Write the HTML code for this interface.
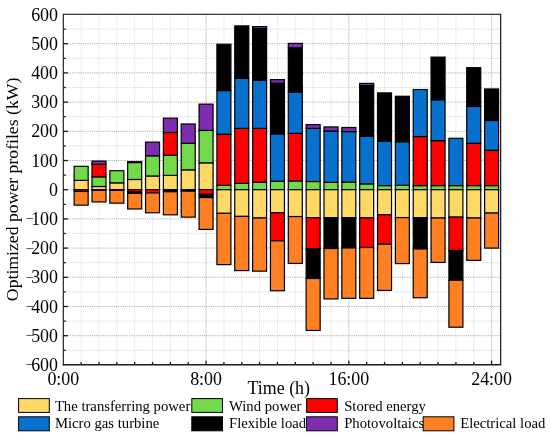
<!DOCTYPE html>
<html lang="en"><head><meta charset="utf-8"><title>Optimized power profiles</title>
<style>html,body{margin:0;padding:0;background:#fff}body{width:550px;height:437px;overflow:hidden}svg{display:block}text{font-family:"Liberation Serif","Times New Roman",serif;fill:#000}</style>
</head><body>
<svg width="550" height="437" viewBox="0 0 550 437">
<rect x="0" y="0" width="550" height="437" fill="#ffffff"/>
<g fill="none" stroke-width="1">
<line x1="81.15" y1="14.3" x2="81.15" y2="364.7" stroke="#dadada" stroke-dasharray="1.1 1.1"/>
<line x1="98.99" y1="14.3" x2="98.99" y2="364.7" stroke="#dadada" stroke-dasharray="1.1 1.1"/>
<line x1="116.84" y1="14.3" x2="116.84" y2="364.7" stroke="#dadada" stroke-dasharray="1.1 1.1"/>
<line x1="134.68" y1="14.3" x2="134.68" y2="364.7" stroke="#dadada" stroke-dasharray="1.1 1.1"/>
<line x1="152.53" y1="14.3" x2="152.53" y2="364.7" stroke="#dadada" stroke-dasharray="1.1 1.1"/>
<line x1="170.38" y1="14.3" x2="170.38" y2="364.7" stroke="#dadada" stroke-dasharray="1.1 1.1"/>
<line x1="188.22" y1="14.3" x2="188.22" y2="364.7" stroke="#dadada" stroke-dasharray="1.1 1.1"/>
<line x1="206.07" y1="14.3" x2="206.07" y2="364.7" stroke="#aaaaaa" stroke-dasharray="1.1 1.1"/>
<line x1="223.91" y1="14.3" x2="223.91" y2="364.7" stroke="#dadada" stroke-dasharray="1.1 1.1"/>
<line x1="241.76" y1="14.3" x2="241.76" y2="364.7" stroke="#dadada" stroke-dasharray="1.1 1.1"/>
<line x1="259.60" y1="14.3" x2="259.60" y2="364.7" stroke="#dadada" stroke-dasharray="1.1 1.1"/>
<line x1="277.45" y1="14.3" x2="277.45" y2="364.7" stroke="#dadada" stroke-dasharray="1.1 1.1"/>
<line x1="295.30" y1="14.3" x2="295.30" y2="364.7" stroke="#dadada" stroke-dasharray="1.1 1.1"/>
<line x1="313.14" y1="14.3" x2="313.14" y2="364.7" stroke="#dadada" stroke-dasharray="1.1 1.1"/>
<line x1="330.99" y1="14.3" x2="330.99" y2="364.7" stroke="#dadada" stroke-dasharray="1.1 1.1"/>
<line x1="348.83" y1="14.3" x2="348.83" y2="364.7" stroke="#aaaaaa" stroke-dasharray="1.1 1.1"/>
<line x1="366.68" y1="14.3" x2="366.68" y2="364.7" stroke="#dadada" stroke-dasharray="1.1 1.1"/>
<line x1="384.53" y1="14.3" x2="384.53" y2="364.7" stroke="#dadada" stroke-dasharray="1.1 1.1"/>
<line x1="402.37" y1="14.3" x2="402.37" y2="364.7" stroke="#dadada" stroke-dasharray="1.1 1.1"/>
<line x1="420.22" y1="14.3" x2="420.22" y2="364.7" stroke="#dadada" stroke-dasharray="1.1 1.1"/>
<line x1="438.06" y1="14.3" x2="438.06" y2="364.7" stroke="#dadada" stroke-dasharray="1.1 1.1"/>
<line x1="455.91" y1="14.3" x2="455.91" y2="364.7" stroke="#dadada" stroke-dasharray="1.1 1.1"/>
<line x1="473.75" y1="14.3" x2="473.75" y2="364.7" stroke="#dadada" stroke-dasharray="1.1 1.1"/>
<line x1="491.60" y1="14.3" x2="491.60" y2="364.7" stroke="#aaaaaa" stroke-dasharray="1.1 1.1"/>
<line x1="63.3" y1="350.30" x2="500.7" y2="350.30" stroke="#d6d6d6" stroke-dasharray="1.1 1.1"/>
<line x1="63.3" y1="335.70" x2="500.7" y2="335.70" stroke="#aaaaaa" stroke-dasharray="1.1 1.1"/>
<line x1="63.3" y1="321.10" x2="500.7" y2="321.10" stroke="#d6d6d6" stroke-dasharray="1.1 1.1"/>
<line x1="63.3" y1="306.50" x2="500.7" y2="306.50" stroke="#aaaaaa" stroke-dasharray="1.1 1.1"/>
<line x1="63.3" y1="291.90" x2="500.7" y2="291.90" stroke="#d6d6d6" stroke-dasharray="1.1 1.1"/>
<line x1="63.3" y1="277.30" x2="500.7" y2="277.30" stroke="#aaaaaa" stroke-dasharray="1.1 1.1"/>
<line x1="63.3" y1="262.70" x2="500.7" y2="262.70" stroke="#d6d6d6" stroke-dasharray="1.1 1.1"/>
<line x1="63.3" y1="248.10" x2="500.7" y2="248.10" stroke="#aaaaaa" stroke-dasharray="1.1 1.1"/>
<line x1="63.3" y1="233.50" x2="500.7" y2="233.50" stroke="#d6d6d6" stroke-dasharray="1.1 1.1"/>
<line x1="63.3" y1="218.90" x2="500.7" y2="218.90" stroke="#aaaaaa" stroke-dasharray="1.1 1.1"/>
<line x1="63.3" y1="204.30" x2="500.7" y2="204.30" stroke="#d6d6d6" stroke-dasharray="1.1 1.1"/>
<line x1="63.3" y1="189.70" x2="500.7" y2="189.70" stroke="#aaaaaa" stroke-dasharray="1.1 1.1"/>
<line x1="63.3" y1="175.10" x2="500.7" y2="175.10" stroke="#d6d6d6" stroke-dasharray="1.1 1.1"/>
<line x1="63.3" y1="160.50" x2="500.7" y2="160.50" stroke="#aaaaaa" stroke-dasharray="1.1 1.1"/>
<line x1="63.3" y1="145.90" x2="500.7" y2="145.90" stroke="#d6d6d6" stroke-dasharray="1.1 1.1"/>
<line x1="63.3" y1="131.30" x2="500.7" y2="131.30" stroke="#aaaaaa" stroke-dasharray="1.1 1.1"/>
<line x1="63.3" y1="116.70" x2="500.7" y2="116.70" stroke="#d6d6d6" stroke-dasharray="1.1 1.1"/>
<line x1="63.3" y1="102.10" x2="500.7" y2="102.10" stroke="#aaaaaa" stroke-dasharray="1.1 1.1"/>
<line x1="63.3" y1="87.50" x2="500.7" y2="87.50" stroke="#d6d6d6" stroke-dasharray="1.1 1.1"/>
<line x1="63.3" y1="72.90" x2="500.7" y2="72.90" stroke="#aaaaaa" stroke-dasharray="1.1 1.1"/>
<line x1="63.3" y1="58.30" x2="500.7" y2="58.30" stroke="#d6d6d6" stroke-dasharray="1.1 1.1"/>
<line x1="63.3" y1="43.70" x2="500.7" y2="43.70" stroke="#aaaaaa" stroke-dasharray="1.1 1.1"/>
<line x1="63.3" y1="29.10" x2="500.7" y2="29.10" stroke="#d6d6d6" stroke-dasharray="1.1 1.1"/>
</g>
<g stroke="#000" stroke-width="1.2" stroke-linejoin="miter">
<rect x="74.15" y="180.36" width="14.0" height="9.34" fill="#FFD966"/>
<rect x="74.15" y="166.34" width="14.0" height="14.02" fill="#72DA48"/>
<rect x="74.15" y="189.70" width="14.0" height="1.75" fill="#FF0000"/>
<rect x="74.15" y="191.45" width="14.0" height="13.72" fill="#FF8022"/>
<rect x="91.99" y="186.49" width="14.0" height="3.21" fill="#FFD966"/>
<rect x="91.99" y="176.85" width="14.0" height="9.64" fill="#72DA48"/>
<rect x="91.99" y="164.30" width="14.0" height="12.56" fill="#FF0000"/>
<rect x="91.99" y="161.08" width="14.0" height="3.21" fill="#7D2DAE"/>
<rect x="91.99" y="189.70" width="14.0" height="0.58" fill="#000000"/>
<rect x="91.99" y="190.28" width="14.0" height="11.68" fill="#FF8022"/>
<rect x="109.84" y="182.84" width="14.0" height="6.86" fill="#FFD966"/>
<rect x="109.84" y="170.72" width="14.0" height="12.12" fill="#72DA48"/>
<rect x="109.84" y="189.70" width="14.0" height="0.58" fill="#000000"/>
<rect x="109.84" y="190.28" width="14.0" height="12.85" fill="#FF8022"/>
<rect x="127.68" y="179.48" width="14.0" height="10.22" fill="#FFD966"/>
<rect x="127.68" y="162.54" width="14.0" height="16.94" fill="#72DA48"/>
<rect x="127.68" y="161.67" width="14.0" height="0.88" fill="#000000"/>
<rect x="127.68" y="189.70" width="14.0" height="2.48" fill="#FF0000"/>
<rect x="127.68" y="192.18" width="14.0" height="1.17" fill="#000000"/>
<rect x="127.68" y="193.35" width="14.0" height="15.62" fill="#FF8022"/>
<rect x="145.53" y="175.98" width="14.0" height="13.72" fill="#FFD966"/>
<rect x="145.53" y="155.83" width="14.0" height="20.15" fill="#72DA48"/>
<rect x="145.53" y="142.10" width="14.0" height="13.72" fill="#7D2DAE"/>
<rect x="145.53" y="189.70" width="14.0" height="3.21" fill="#FF0000"/>
<rect x="145.53" y="192.91" width="14.0" height="19.86" fill="#FF8022"/>
<rect x="163.38" y="175.39" width="14.0" height="14.31" fill="#FFD966"/>
<rect x="163.38" y="155.24" width="14.0" height="20.15" fill="#72DA48"/>
<rect x="163.38" y="132.47" width="14.0" height="22.78" fill="#FF0000"/>
<rect x="163.38" y="118.16" width="14.0" height="14.31" fill="#7D2DAE"/>
<rect x="163.38" y="189.70" width="14.0" height="2.04" fill="#000000"/>
<rect x="163.38" y="191.74" width="14.0" height="23.07" fill="#FF8022"/>
<rect x="181.22" y="169.84" width="14.0" height="19.86" fill="#FFD966"/>
<rect x="181.22" y="143.27" width="14.0" height="26.57" fill="#72DA48"/>
<rect x="181.22" y="124.00" width="14.0" height="19.27" fill="#7D2DAE"/>
<rect x="181.22" y="189.70" width="14.0" height="1.46" fill="#000000"/>
<rect x="181.22" y="191.16" width="14.0" height="25.99" fill="#FF8022"/>
<rect x="199.07" y="162.84" width="14.0" height="26.86" fill="#FFD966"/>
<rect x="199.07" y="130.42" width="14.0" height="32.41" fill="#72DA48"/>
<rect x="199.07" y="104.14" width="14.0" height="26.28" fill="#7D2DAE"/>
<rect x="199.07" y="189.70" width="14.0" height="4.67" fill="#FF0000"/>
<rect x="199.07" y="194.37" width="14.0" height="3.21" fill="#000000"/>
<rect x="199.07" y="197.58" width="14.0" height="31.83" fill="#FF8022"/>
<rect x="216.91" y="185.32" width="14.0" height="4.38" fill="#72DA48"/>
<rect x="216.91" y="134.22" width="14.0" height="51.10" fill="#FF0000"/>
<rect x="216.91" y="90.57" width="14.0" height="43.65" fill="#0871CE"/>
<rect x="216.91" y="44.28" width="14.0" height="46.28" fill="#000000"/>
<rect x="216.91" y="189.70" width="14.0" height="23.65" fill="#FFD966"/>
<rect x="216.91" y="213.35" width="14.0" height="51.25" fill="#FF8022"/>
<rect x="234.76" y="183.28" width="14.0" height="6.42" fill="#72DA48"/>
<rect x="234.76" y="128.38" width="14.0" height="54.90" fill="#FF0000"/>
<rect x="234.76" y="78.30" width="14.0" height="50.08" fill="#0871CE"/>
<rect x="234.76" y="25.89" width="14.0" height="52.41" fill="#000000"/>
<rect x="234.76" y="189.70" width="14.0" height="26.72" fill="#FFD966"/>
<rect x="234.76" y="216.42" width="14.0" height="54.17" fill="#FF8022"/>
<rect x="252.60" y="182.11" width="14.0" height="7.59" fill="#72DA48"/>
<rect x="252.60" y="128.38" width="14.0" height="53.73" fill="#FF0000"/>
<rect x="252.60" y="80.35" width="14.0" height="48.03" fill="#0871CE"/>
<rect x="252.60" y="28.66" width="14.0" height="51.68" fill="#000000"/>
<rect x="252.60" y="26.62" width="14.0" height="2.04" fill="#7D2DAE"/>
<rect x="252.60" y="189.70" width="14.0" height="28.32" fill="#FFD966"/>
<rect x="252.60" y="218.02" width="14.0" height="53.14" fill="#FF8022"/>
<rect x="270.45" y="181.23" width="14.0" height="8.47" fill="#72DA48"/>
<rect x="270.45" y="133.93" width="14.0" height="47.30" fill="#0871CE"/>
<rect x="270.45" y="83.12" width="14.0" height="50.81" fill="#000000"/>
<rect x="270.45" y="79.62" width="14.0" height="3.50" fill="#7D2DAE"/>
<rect x="270.45" y="189.70" width="14.0" height="23.07" fill="#FFD966"/>
<rect x="270.45" y="212.77" width="14.0" height="28.03" fill="#FF0000"/>
<rect x="270.45" y="240.80" width="14.0" height="49.93" fill="#FF8022"/>
<rect x="288.30" y="180.94" width="14.0" height="8.76" fill="#72DA48"/>
<rect x="288.30" y="133.34" width="14.0" height="47.60" fill="#FF0000"/>
<rect x="288.30" y="92.03" width="14.0" height="41.32" fill="#0871CE"/>
<rect x="288.30" y="47.79" width="14.0" height="44.24" fill="#000000"/>
<rect x="288.30" y="43.41" width="14.0" height="4.38" fill="#7D2DAE"/>
<rect x="288.30" y="189.70" width="14.0" height="26.86" fill="#FFD966"/>
<rect x="288.30" y="216.56" width="14.0" height="46.87" fill="#FF8022"/>
<rect x="306.14" y="181.52" width="14.0" height="8.18" fill="#72DA48"/>
<rect x="306.14" y="128.38" width="14.0" height="53.14" fill="#0871CE"/>
<rect x="306.14" y="124.58" width="14.0" height="3.80" fill="#7D2DAE"/>
<rect x="306.14" y="189.70" width="14.0" height="28.03" fill="#FFD966"/>
<rect x="306.14" y="217.73" width="14.0" height="31.10" fill="#FF0000"/>
<rect x="306.14" y="248.83" width="14.0" height="29.64" fill="#000000"/>
<rect x="306.14" y="278.47" width="14.0" height="51.98" fill="#FF8022"/>
<rect x="323.99" y="182.40" width="14.0" height="7.30" fill="#72DA48"/>
<rect x="323.99" y="131.01" width="14.0" height="51.39" fill="#0871CE"/>
<rect x="323.99" y="126.92" width="14.0" height="4.09" fill="#7D2DAE"/>
<rect x="323.99" y="189.70" width="14.0" height="28.03" fill="#FFD966"/>
<rect x="323.99" y="217.73" width="14.0" height="30.81" fill="#000000"/>
<rect x="323.99" y="248.54" width="14.0" height="50.37" fill="#FF8022"/>
<rect x="341.83" y="182.11" width="14.0" height="7.59" fill="#72DA48"/>
<rect x="341.83" y="131.59" width="14.0" height="50.52" fill="#0871CE"/>
<rect x="341.83" y="127.50" width="14.0" height="4.09" fill="#7D2DAE"/>
<rect x="341.83" y="189.70" width="14.0" height="28.03" fill="#FFD966"/>
<rect x="341.83" y="217.73" width="14.0" height="30.22" fill="#000000"/>
<rect x="341.83" y="247.95" width="14.0" height="50.37" fill="#FF8022"/>
<rect x="359.68" y="183.86" width="14.0" height="5.84" fill="#72DA48"/>
<rect x="359.68" y="136.26" width="14.0" height="47.60" fill="#0871CE"/>
<rect x="359.68" y="85.60" width="14.0" height="50.66" fill="#000000"/>
<rect x="359.68" y="83.41" width="14.0" height="2.19" fill="#7D2DAE"/>
<rect x="359.68" y="189.70" width="14.0" height="28.18" fill="#FFD966"/>
<rect x="359.68" y="217.88" width="14.0" height="29.64" fill="#FF0000"/>
<rect x="359.68" y="247.52" width="14.0" height="50.81" fill="#FF8022"/>
<rect x="377.53" y="185.61" width="14.0" height="4.09" fill="#72DA48"/>
<rect x="377.53" y="141.23" width="14.0" height="44.38" fill="#0871CE"/>
<rect x="377.53" y="92.90" width="14.0" height="48.33" fill="#000000"/>
<rect x="377.53" y="189.70" width="14.0" height="24.97" fill="#FFD966"/>
<rect x="377.53" y="214.67" width="14.0" height="29.49" fill="#FF0000"/>
<rect x="377.53" y="244.16" width="14.0" height="46.28" fill="#FF8022"/>
<rect x="395.37" y="185.32" width="14.0" height="4.38" fill="#72DA48"/>
<rect x="395.37" y="141.81" width="14.0" height="43.51" fill="#0871CE"/>
<rect x="395.37" y="96.26" width="14.0" height="45.55" fill="#000000"/>
<rect x="395.37" y="189.70" width="14.0" height="27.89" fill="#FFD966"/>
<rect x="395.37" y="217.59" width="14.0" height="45.99" fill="#FF8022"/>
<rect x="413.22" y="185.61" width="14.0" height="4.09" fill="#72DA48"/>
<rect x="413.22" y="136.56" width="14.0" height="49.06" fill="#FF0000"/>
<rect x="413.22" y="89.54" width="14.0" height="47.01" fill="#0871CE"/>
<rect x="413.22" y="189.70" width="14.0" height="28.03" fill="#FFD966"/>
<rect x="413.22" y="217.73" width="14.0" height="31.24" fill="#000000"/>
<rect x="413.22" y="248.98" width="14.0" height="48.76" fill="#FF8022"/>
<rect x="431.06" y="185.61" width="14.0" height="4.09" fill="#72DA48"/>
<rect x="431.06" y="140.64" width="14.0" height="44.97" fill="#FF0000"/>
<rect x="431.06" y="99.76" width="14.0" height="40.88" fill="#0871CE"/>
<rect x="431.06" y="57.13" width="14.0" height="42.63" fill="#000000"/>
<rect x="431.06" y="189.70" width="14.0" height="28.32" fill="#FFD966"/>
<rect x="431.06" y="218.02" width="14.0" height="44.38" fill="#FF8022"/>
<rect x="448.91" y="185.61" width="14.0" height="4.09" fill="#72DA48"/>
<rect x="448.91" y="138.31" width="14.0" height="47.30" fill="#0871CE"/>
<rect x="448.91" y="189.70" width="14.0" height="27.45" fill="#FFD966"/>
<rect x="448.91" y="217.15" width="14.0" height="33.29" fill="#FF0000"/>
<rect x="448.91" y="250.44" width="14.0" height="29.78" fill="#000000"/>
<rect x="448.91" y="280.22" width="14.0" height="47.01" fill="#FF8022"/>
<rect x="466.75" y="185.61" width="14.0" height="4.09" fill="#72DA48"/>
<rect x="466.75" y="143.27" width="14.0" height="42.34" fill="#FF0000"/>
<rect x="466.75" y="106.48" width="14.0" height="36.79" fill="#0871CE"/>
<rect x="466.75" y="67.64" width="14.0" height="38.84" fill="#000000"/>
<rect x="466.75" y="189.70" width="14.0" height="28.32" fill="#FFD966"/>
<rect x="466.75" y="218.02" width="14.0" height="42.34" fill="#FF8022"/>
<rect x="484.60" y="185.61" width="14.0" height="4.09" fill="#72DA48"/>
<rect x="484.60" y="150.28" width="14.0" height="35.33" fill="#FF0000"/>
<rect x="484.60" y="120.50" width="14.0" height="29.78" fill="#0871CE"/>
<rect x="484.60" y="88.96" width="14.0" height="31.54" fill="#000000"/>
<rect x="484.60" y="189.70" width="14.0" height="23.36" fill="#FFD966"/>
<rect x="484.60" y="213.06" width="14.0" height="35.04" fill="#FF8022"/>
</g>
<g stroke="#1a1a1a" fill="none">
<path d="M63.3 14.3 H500.7 V364.7" stroke-width="1.1" stroke="#000"/>
<path d="M63.3 13.8 V365.4" stroke-width="1.15"/>
<path d="M62.75 364.8 H501.2" stroke-width="1.5"/>
<line x1="63.3" y1="350.30" x2="65.7" y2="350.30" stroke-width="1.3"/>
<line x1="63.3" y1="335.70" x2="67.89999999999999" y2="335.70" stroke-width="1.3"/>
<line x1="63.3" y1="321.10" x2="65.7" y2="321.10" stroke-width="1.3"/>
<line x1="63.3" y1="306.50" x2="67.89999999999999" y2="306.50" stroke-width="1.3"/>
<line x1="63.3" y1="291.90" x2="65.7" y2="291.90" stroke-width="1.3"/>
<line x1="63.3" y1="277.30" x2="67.89999999999999" y2="277.30" stroke-width="1.3"/>
<line x1="63.3" y1="262.70" x2="65.7" y2="262.70" stroke-width="1.3"/>
<line x1="63.3" y1="248.10" x2="67.89999999999999" y2="248.10" stroke-width="1.3"/>
<line x1="63.3" y1="233.50" x2="65.7" y2="233.50" stroke-width="1.3"/>
<line x1="63.3" y1="218.90" x2="67.89999999999999" y2="218.90" stroke-width="1.3"/>
<line x1="63.3" y1="204.30" x2="65.7" y2="204.30" stroke-width="1.3"/>
<line x1="63.3" y1="189.70" x2="67.89999999999999" y2="189.70" stroke-width="1.3"/>
<line x1="63.3" y1="175.10" x2="65.7" y2="175.10" stroke-width="1.3"/>
<line x1="63.3" y1="160.50" x2="67.89999999999999" y2="160.50" stroke-width="1.3"/>
<line x1="63.3" y1="145.90" x2="65.7" y2="145.90" stroke-width="1.3"/>
<line x1="63.3" y1="131.30" x2="67.89999999999999" y2="131.30" stroke-width="1.3"/>
<line x1="63.3" y1="116.70" x2="65.7" y2="116.70" stroke-width="1.3"/>
<line x1="63.3" y1="102.10" x2="67.89999999999999" y2="102.10" stroke-width="1.3"/>
<line x1="63.3" y1="87.50" x2="65.7" y2="87.50" stroke-width="1.3"/>
<line x1="63.3" y1="72.90" x2="67.89999999999999" y2="72.90" stroke-width="1.3"/>
<line x1="63.3" y1="58.30" x2="65.7" y2="58.30" stroke-width="1.3"/>
<line x1="63.3" y1="43.70" x2="67.89999999999999" y2="43.70" stroke-width="1.3"/>
<line x1="63.3" y1="29.10" x2="65.7" y2="29.10" stroke-width="1.3"/>
<line x1="81.15" y1="364.7" x2="81.15" y2="361.9" stroke-width="1.3"/>
<line x1="98.99" y1="364.7" x2="98.99" y2="361.9" stroke-width="1.3"/>
<line x1="116.84" y1="364.7" x2="116.84" y2="361.9" stroke-width="1.3"/>
<line x1="134.68" y1="364.7" x2="134.68" y2="361.9" stroke-width="1.3"/>
<line x1="152.53" y1="364.7" x2="152.53" y2="361.9" stroke-width="1.3"/>
<line x1="170.38" y1="364.7" x2="170.38" y2="361.9" stroke-width="1.3"/>
<line x1="188.22" y1="364.7" x2="188.22" y2="361.9" stroke-width="1.3"/>
<line x1="206.07" y1="364.7" x2="206.07" y2="360.7" stroke-width="1.3"/>
<line x1="223.91" y1="364.7" x2="223.91" y2="361.9" stroke-width="1.3"/>
<line x1="241.76" y1="364.7" x2="241.76" y2="361.9" stroke-width="1.3"/>
<line x1="259.60" y1="364.7" x2="259.60" y2="361.9" stroke-width="1.3"/>
<line x1="277.45" y1="364.7" x2="277.45" y2="361.9" stroke-width="1.3"/>
<line x1="295.30" y1="364.7" x2="295.30" y2="361.9" stroke-width="1.3"/>
<line x1="313.14" y1="364.7" x2="313.14" y2="361.9" stroke-width="1.3"/>
<line x1="330.99" y1="364.7" x2="330.99" y2="361.9" stroke-width="1.3"/>
<line x1="348.83" y1="364.7" x2="348.83" y2="360.7" stroke-width="1.3"/>
<line x1="366.68" y1="364.7" x2="366.68" y2="361.9" stroke-width="1.3"/>
<line x1="384.53" y1="364.7" x2="384.53" y2="361.9" stroke-width="1.3"/>
<line x1="402.37" y1="364.7" x2="402.37" y2="361.9" stroke-width="1.3"/>
<line x1="420.22" y1="364.7" x2="420.22" y2="361.9" stroke-width="1.3"/>
<line x1="438.06" y1="364.7" x2="438.06" y2="361.9" stroke-width="1.3"/>
<line x1="455.91" y1="364.7" x2="455.91" y2="361.9" stroke-width="1.3"/>
<line x1="473.75" y1="364.7" x2="473.75" y2="361.9" stroke-width="1.3"/>
<line x1="491.60" y1="364.7" x2="491.60" y2="360.7" stroke-width="1.3"/>
</g>
<g font-size="17.9px" text-anchor="end">
<text x="58" y="370.90"><tspan font-size="13.2px" dy="-3.6">–</tspan><tspan dy="3.6" dx="-1.9">600</tspan></text>
<text x="58" y="341.70"><tspan font-size="13.2px" dy="-3.6">–</tspan><tspan dy="3.6" dx="-1.9">500</tspan></text>
<text x="58" y="312.50"><tspan font-size="13.2px" dy="-3.6">–</tspan><tspan dy="3.6" dx="-1.9">400</tspan></text>
<text x="58" y="283.30"><tspan font-size="13.2px" dy="-3.6">–</tspan><tspan dy="3.6" dx="-1.9">300</tspan></text>
<text x="58" y="254.10"><tspan font-size="13.2px" dy="-3.6">–</tspan><tspan dy="3.6" dx="-1.9">200</tspan></text>
<text x="58" y="224.90"><tspan font-size="13.2px" dy="-3.6">–</tspan><tspan dy="3.6" dx="-1.9">100</tspan></text>
<text x="58" y="195.70">0</text>
<text x="58" y="166.50">100</text>
<text x="58" y="137.30">200</text>
<text x="58" y="108.10">300</text>
<text x="58" y="78.90">400</text>
<text x="58" y="49.70">500</text>
<text x="58" y="20.50">600</text>
</g>
<g font-size="17.9px" text-anchor="middle">
<text x="63.30" y="384.6">0:00</text>
<text x="206.07" y="384.6">8:00</text>
<text x="348.83" y="384.6">16:00</text>
<text x="491.60" y="384.6">24:00</text>
</g>
<text x="278.8" y="393.7" font-size="17.9px" text-anchor="middle">Time (h)</text>
<text transform="translate(18.4 189.4) rotate(-90)" font-size="17.7px" text-anchor="middle">Optimized power profiles (kW)</text>
<g font-size="14.7px">
<rect x="18.6" y="398.6" width="30.7" height="13.8" fill="#FFD966" stroke="#000" stroke-width="1"/>
<text x="54.900000000000006" y="410.6">The transferring power</text>
<rect x="18.6" y="416.8" width="30.7" height="14.0" fill="#0871CE" stroke="#000" stroke-width="1"/>
<text x="54.900000000000006" y="428.1">Micro gas turbine</text>
<rect x="191.8" y="398.6" width="30.7" height="13.8" fill="#72DA48" stroke="#000" stroke-width="1"/>
<text x="229.0" y="410.6">Wind power</text>
<rect x="191.8" y="416.8" width="30.7" height="14.0" fill="#000000" stroke="#000" stroke-width="1"/>
<text x="229.0" y="428.1">Flexible load</text>
<rect x="306.6" y="398.6" width="30.7" height="13.8" fill="#FF0000" stroke="#000" stroke-width="1"/>
<text x="344.2" y="410.6">Stored energy</text>
<rect x="306.6" y="416.8" width="30.7" height="14.0" fill="#7D2DAE" stroke="#000" stroke-width="1"/>
<text x="344.2" y="428.1">Photovoltaics</text>
<rect x="423.2" y="416.8" width="30.7" height="14.0" fill="#FF8022" stroke="#000" stroke-width="1"/>
<text x="460.2" y="428.1">Electrical load</text>
</g>
</svg></body></html>
